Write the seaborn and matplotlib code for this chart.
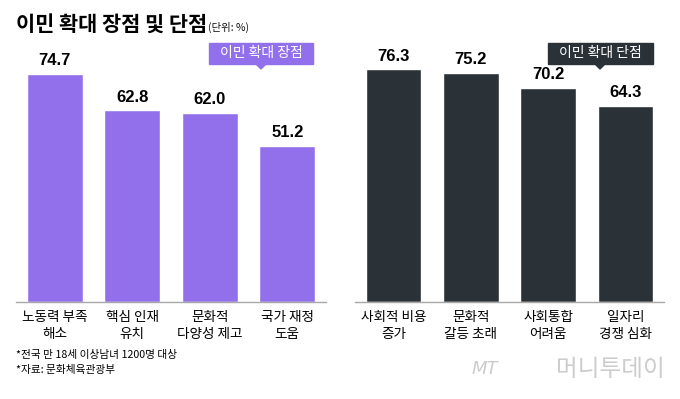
import matplotlib
matplotlib.use("Agg")
import matplotlib.pyplot as plt
import seaborn as sns
import pandas as pd
from matplotlib.patches import Rectangle, Polygon
from matplotlib.ticker import FixedLocator

# ---- data ----
pros_cats = ["노동력 부족\n해소", "핵심 인재\n유치", "문화적\n다양성 제고", "국가 재정\n도움"]
pros_vals = [74.7, 62.8, 62.0, 51.2]
cons_cats = ["사회적 비용\n증가", "문화적\n갈등 초래", "사회통합\n어려움", "일자리\n경쟁 심화"]
cons_vals = [76.3, 75.2, 70.2, 64.3]

title = "이민 확대 장점 및 단점"
unit = "(단위: %)"
pros_badge = "이민 확대 장점"
cons_badge = "이민 확대 단점"
notes = ["*전국 만 18세 이상남녀 1200명 대상", "*자료: 문화체육관광부"]

PURPLE = "#9370EB"
DARK = "#2A3238"
AXIS = "#A8A8A8"

sns.set_style("white")
plt.rcParams["font.family"] = ["Noto Sans CJK KR", "DejaVu Sans"]
NUM_FONT = ["Liberation Sans Narrow", "Liberation Sans", "DejaVu Sans"]

W, H = 680, 399
fig = plt.figure(figsize=(W / 100, H / 100), dpi=100)


def fx(x):
    return x / W


def fy(y):
    return 1 - y / H


base_y = 301.5
px_per_unit = 3.045
ymax = 85
ax_h = ymax * px_per_unit

ax1 = fig.add_axes([fx(16), fy(base_y), 310 / W, ax_h / H])
ax2 = fig.add_axes([fx(355), fy(base_y), 309 / W, ax_h / H])

for ax, cats, vals, col in [(ax1, pros_cats, pros_vals, PURPLE), (ax2, cons_cats, cons_vals, DARK)]:
    df = pd.DataFrame({"cat": cats, "val": vals})
    sns.barplot(data=df, x="cat", y="val", color=col, saturation=1, width=0.72, ax=ax)
    ax.set_xlim(-0.5, len(cats) - 0.5)
    ax.set_ylim(0, ymax)
    ax.set_xlabel("")
    ax.set_ylabel("")
    ax.set_yticks([])
    for s in ["left", "right", "top"]:
        ax.spines[s].set_visible(False)
    ax.spines["bottom"].set_color(AXIS)
    ax.spines["bottom"].set_linewidth(1)
    ax.tick_params(axis="x", which="major", length=0, pad=6, labelsize=9.8, labelcolor="#000000")
    ax.xaxis.set_minor_locator(FixedLocator([i - 0.5 for i in range(len(cats) + 1)]))
    ax.tick_params(axis="x", which="minor", direction="in", length=6, width=1, color=AXIS)
    for lab in ax.get_xticklabels():
        lab.set_linespacing(1.25)
    for cont in ax.containers:
        ax.bar_label(cont, fmt="%.1f", padding=4, fontsize=12, fontweight="bold",
                     family=NUM_FONT, color="#000000")

# title
fig.text(fx(16), fy(24), title, fontsize=15, fontweight="bold", va="center", ha="left", color="#000000")
fig.text(fx(208), fy(27.5), unit, fontsize=7.5, va="center", ha="left", color="#111111")

# badges
def badge(x0, x1, y0, y1, tip_x, color, text):
    fig.patches.append(Rectangle((fx(x0), fy(y1)), (x1 - x0) / W, (y1 - y0) / H,
                                 transform=fig.transFigure, color=color, zorder=5))
    fig.patches.append(Polygon([(fx(tip_x - 5), fy(y1)), (fx(tip_x + 5), fy(y1)), (fx(tip_x), fy(y1 + 5))],
                               closed=True, transform=fig.transFigure, color=color, zorder=5))
    fig.text(fx((x0 + x1) / 2), fy((y0 + y1) / 2), text, color="white", fontsize=10,
             ha="center", va="center", zorder=6)

badge(209, 313, 43, 64, 261, PURPLE, pros_badge)
badge(548, 653, 43, 64, 600, DARK, cons_badge)

# footnotes
fig.text(fx(16), fy(355), notes[0], fontsize=7.7, va="center", ha="left", color="#000000")
fig.text(fx(16), fy(370), notes[1], fontsize=7.7, va="center", ha="left", color="#000000")

# watermark
fig.text(fx(472), fy(369), "MT", fontsize=13, style="italic", color="#CCCCCC", va="center", ha="left",
         family=["DejaVu Sans"])
fig.text(fx(665), fy(369), "머니투데이", fontsize=17, fontweight="light", color="#CCCCCC",
         va="center", ha="right")

fig.savefig("out.png", dpi=100)
